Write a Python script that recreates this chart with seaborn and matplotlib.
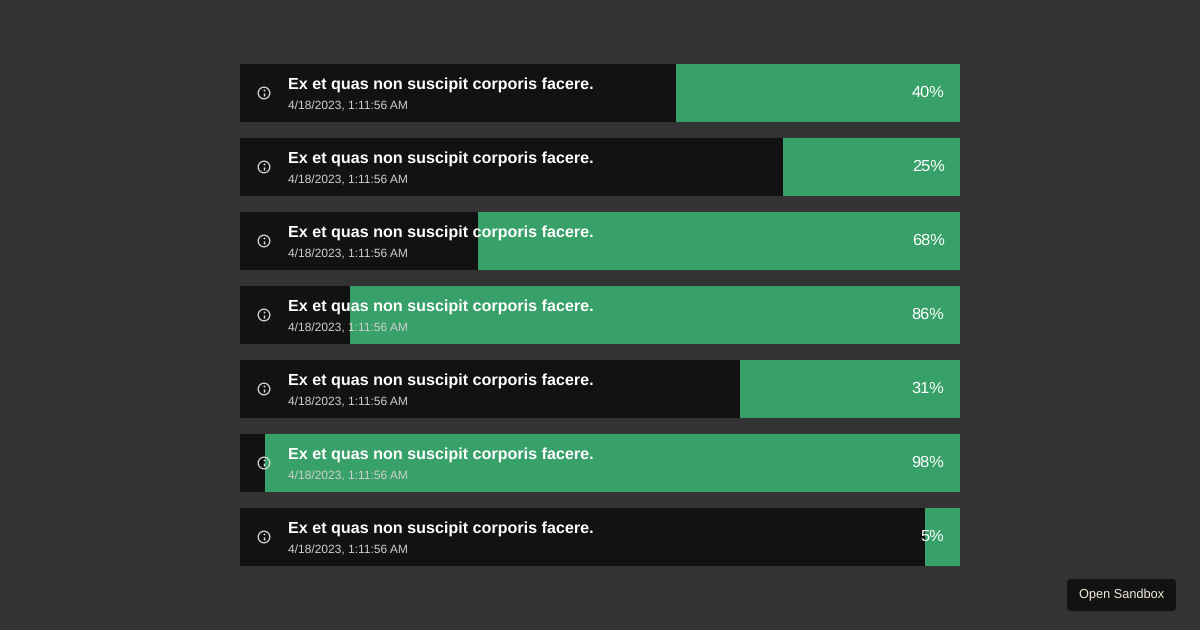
import matplotlib
matplotlib.use("Agg")
import matplotlib.pyplot as plt
import seaborn as sns
import pandas as pd
from matplotlib.patches import Circle, FancyBboxPatch

BG = "#333333"
TRACK = "#121212"
GREEN = "#38a169"

percents = [40, 25, 68, 86, 31, 98, 5]
titles = ["Ex et quas non suscipit corporis facere."] * 7
dates = ["4/18/2023, 1:11:56 AM"] * 7
button_label = "Open Sandbox"

sns.set_theme(style="dark")
plt.rcParams["font.family"] = ["Liberation Sans", "DejaVu Sans"]
plt.rcParams["text.hinting"] = "no_hinting"

# the bars run from the right edge, a full track is a bit more than 100
AXIS_MAX = 101.55
ROW_PITCH = 74
BAR_H = 58

df = pd.DataFrame({"row": [str(i) for i in range(len(percents))], "pct": percents})
df["track"] = AXIS_MAX

fig = plt.figure(figsize=(12, 6.3), dpi=100, facecolor=BG)
ax = fig.add_axes([240 / 1200, 1 - 574 / 630, 720 / 1200, 518 / 630])
ax.set_facecolor(BG)

sns.barplot(data=df, y="row", x="track", color=TRACK, width=BAR_H / ROW_PITCH,
            saturation=1, ax=ax, orient="h", linewidth=0)
sns.barplot(data=df, y="row", x="pct", color=GREEN, width=BAR_H / ROW_PITCH,
            saturation=1, ax=ax, orient="h", linewidth=0)
ax.set_xlim(AXIS_MAX, 0)
ax.set_xlabel("")
ax.set_ylabel("")
ax.set_xticks([])
ax.set_yticks([])
sns.despine(ax=ax, left=True, bottom=True)

# overlay in pixel coordinates for the row text, icons and the button
over = fig.add_axes([0, 0, 1, 1])
over.set_xlim(0, 1200)
over.set_ylim(630, 0)
over.axis("off")
over.patch.set_alpha(0)

for i, (pct, title, date) in enumerate(zip(percents, titles, dates)):
    top = 64 + i * ROW_PITCH
    cy = top + 29
    over.add_patch(Circle((264, cy), 5.8, fill=False, ec="#e0e0e0", lw=0.9))
    over.plot([264, 264], [cy - 0.4, cy + 3], color="#e0e0e0", lw=1.0, solid_capstyle="butt")
    over.plot([264], [cy - 2.6], marker="o", ms=1.3, color="#e0e0e0", mew=0)
    over.text(288.5, top + 20.5, title, color="white", fontsize=11.63, fontweight="bold",
              ha="left", va="center")
    over.text(288.5, top + 42, date, color="#cfcfcf", fontsize=8.64, ha="left", va="center")
    over.text(944.5, top + 29, f"{pct}%", color="white", fontsize=11.8, ha="right", va="center")

over.add_patch(FancyBboxPatch((1070, 582), 103, 26, boxstyle="round,pad=3,rounding_size=4",
                              fc=TRACK, ec="none"))
over.text(1121.5, 595, button_label, color="#f0ead6", fontsize=9.2, ha="center", va="center")

fig.savefig("out.png", dpi=100, facecolor=BG)
plt.close(fig)
